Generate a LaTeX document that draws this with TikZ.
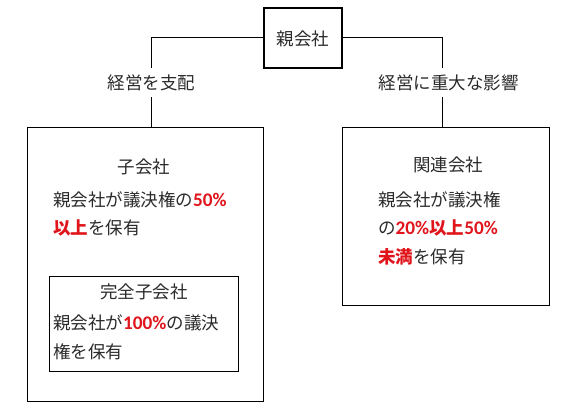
\documentclass[tikz,border=0pt]{standalone}
\usepackage{fontspec}
\setmainfont{Noto Sans CJK JP}
\newfontfamily\numfont[Scale=1.1]{Carlito}
\definecolor{txt}{HTML}{2A2A2A}
\definecolor{hl}{HTML}{E0141B}
\newcommand{\hi}[1]{{\color{hl}\bfseries #1}}
\newcommand{\hn}[1]{{\color{hl}\numfont\bfseries #1}}
\tikzset{
  lbl/.style={inner sep=0pt, text=txt, font=\fontsize{17.5}{21}\selectfont},
  lline/.style={lbl, anchor=west},
  conn/.style={draw=black, line width=1pt},
  boxx/.style={draw=black, line width=1pt},
}
\begin{document}
\begin{tikzpicture}[x=1pt,y=-1pt]
\useasboundingbox (0,0) rectangle (575,404);
% parent
\node[draw=black, line width=2.2pt, minimum width=78pt, minimum height=60pt, inner sep=0pt] (parent) at (302.8,37.7) {};
\node[lbl] (ptext) at (303,38.5) {親会社};
% labels
\node[lbl, minimum height=29pt] (lab1) at (151.7,82.5) {経営を支配};
\node[lbl, minimum height=29pt] (lab2) at (448.5,82.5) {経営に重大な影響};
\coordinate (l2top) at (442.7,68);
\coordinate (l2bot) at (442.7,97);
% boxes
\draw[boxx] (27.3,127.3) rectangle (263.3,401) node[pos=0.5, inner sep=0pt] (child) {};
\draw[boxx] (342.7,127.3) rectangle (549.3,305.7) node[pos=0.5, inner sep=0pt] (assoc) {};
\draw[boxx] (49.3,276) rectangle (238.3,371) node[pos=0.5, inner sep=0pt] (whole) {};
\coordinate (ctop) at (151.7,127.3);
\coordinate (atop) at (442.7,127.3);
% connectors
\draw[conn] (parent.west) -| (lab1.north);
\draw[conn] (lab1.south) -- (ctop);
\draw[conn] (parent.east) -| (l2top);
\draw[conn] (l2bot) -- (atop);
% child text
\node[lbl] (ct) at (144,167) {子会社};
\node[lline] (c1) at (53,200) {親会社が議決権の\hn{50\%}};
\node[lline] (c2) at (53,228) {\hi{以上}を保有};
% wholly owned
\node[lbl] (wt) at (144,292) {完全子会社};
\node[lline] (w1) at (53,323) {親会社が\hn{100\%}の議決};
\node[lline] (w2) at (53,352) {権を保有};
% associated
\node[lbl] (at) at (448,165) {関連会社};
\node[lline] (a1) at (378,200) {親会社が議決権};
\node[lline] (a2) at (378,228) {の\hn{20\%}\hi{以上}\hn{50\%}};
\node[lline] (a3) at (378,257) {\hi{未満}を保有};
\end{tikzpicture}
\end{document}
